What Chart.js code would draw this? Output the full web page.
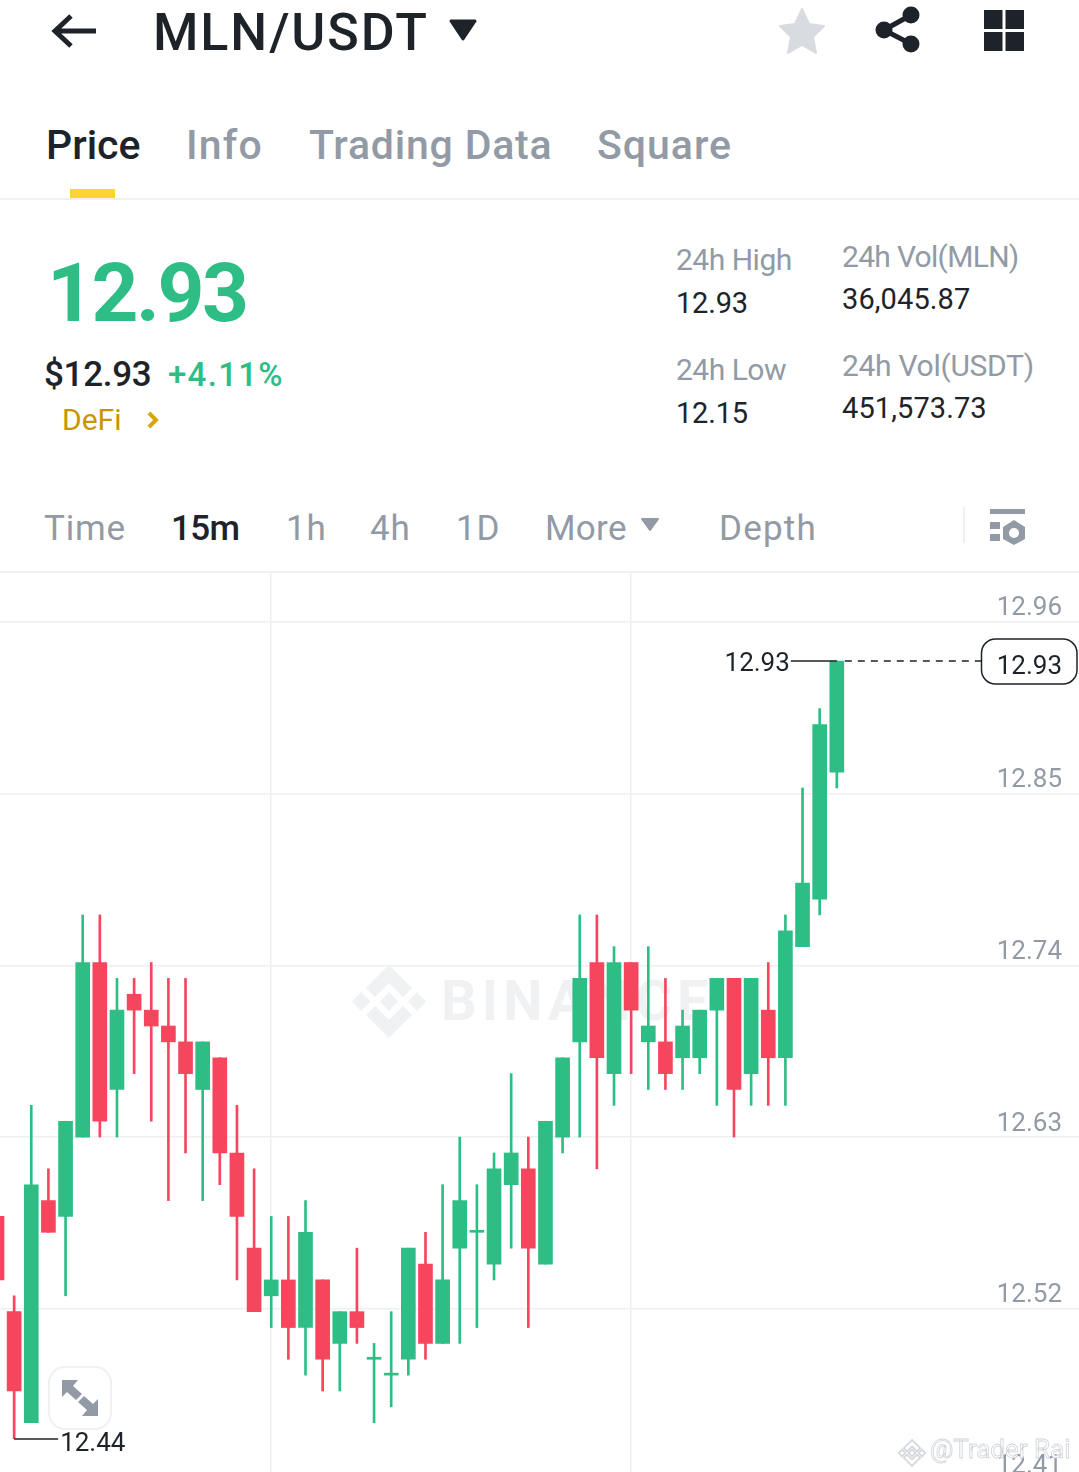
<!DOCTYPE html>
<html>
<head>
<meta charset="utf-8">
<title>MLN/USDT</title>
<script src="https://cdn.jsdelivr.net/npm/chart.js@4"></script>
<style>
  html, body { margin: 0; padding: 0; width: 1079px; height: 1472px; overflow: hidden; background: #fff; }
  body { position: relative; font-family: Roboto, sans-serif; color: #1E2329; }
  .t { position: absolute; white-space: nowrap; line-height: 1; transform: translateY(-50%); }
  .tab { font-size: 41px; color: #929AA5; font-weight: 500; top: 145px; letter-spacing: 0.8px; }
  .stat { font-size: 30px; color: #929AA5; letter-spacing: -0.5px; }
  .val { font-size: 29px; color: #1E2329; letter-spacing: 0.1px; }
  .tf { font-size: 35px; color: #929AA5; top: 528px; letter-spacing: 0.8px; }
  .rule { position: absolute; left: 0; width: 1079px; height: 2px; background: #EEF0F2; }
  svg { position: absolute; overflow: visible; }
  #chart { position: absolute; left: 0; top: 572px; }
  #expand { position: absolute; left: 48px; top: 1366px; width: 60px; height: 60px; border: 2px solid #EEF0F2; border-radius: 17px; background: #fff; }
</style>
</head>
<body>
  <!-- header -->
  <svg style="left:0;top:0" width="1079" height="60">
    <path d="M96 31H57M71 16L55 31L71 46" fill="none" stroke="#1E2329" stroke-width="5"/>
    <path d="M451 21H475L463 39Z" fill="#1E2329" stroke="#1E2329" stroke-width="3" stroke-linejoin="round"/>
    <path d="M802 9L809 24L824 26L813 37L816 53L802 45L788 53L791 37L780 26L795 24Z" fill="#D8DCE1" stroke="#D8DCE1" stroke-width="2" stroke-linejoin="round"/>
    <g fill="#1E2329"><circle cx="884" cy="30" r="8.5"/><circle cx="911" cy="15" r="8.5"/><circle cx="911" cy="44" r="8.5"/></g>
    <path d="M911 15L884 30L911 44" fill="none" stroke="#1E2329" stroke-width="5"/>
    <g fill="#1E2329"><rect x="984" y="10" width="18.5" height="19"/><rect x="1005.5" y="10" width="18.5" height="19"/><rect x="984" y="32" width="18.5" height="19"/><rect x="1005.5" y="32" width="18.5" height="19"/></g>
  </svg>
  <div class="t" style="left:153px;top:33px;font-size:52px;font-weight:500;letter-spacing:1.9px">MLN/USDT</div>

  <div class="t tab" style="left:46px;color:#1E2329;letter-spacing:0">Price</div>
  <div class="t tab" style="left:186px;letter-spacing:1.2px">Info</div>
  <div class="t tab" style="left:309px">Trading Data</div>
  <div class="t tab" style="left:597px;letter-spacing:1px">Square</div>
  <div style="position:absolute;left:70px;top:189px;width:45px;height:9px;background:#FCD535"></div>
  <div class="rule" style="top:198px"></div>

  <!-- price block -->
  <div class="t" style="left:47px;top:293px;font-size:82px;font-weight:700;color:#2EBD85;letter-spacing:-2.5px">12.93</div>
  <div class="t" style="left:44px;top:374px;font-size:35px;font-weight:500;letter-spacing:-0.3px">$12.93</div>
  <div class="t" style="left:168px;top:374px;font-size:33px;font-weight:500;color:#2EBD85;letter-spacing:1.3px">+4.11%</div>
  <div class="t" style="left:62px;top:420px;font-size:30px;color:#C99400">DeFi</div>
  <svg style="left:0;top:400px" width="200" height="40"><path d="M149 13L156 20L149 27" fill="none" stroke="#D9A60A" stroke-width="4"/></svg>

  <div class="t stat" style="left:676px;top:260px">24h High</div>
  <div class="t val" style="left:676px;top:303px;letter-spacing:-0.2px">12.93</div>
  <div class="t stat" style="left:676px;top:370px">24h Low</div>
  <div class="t val" style="left:676px;top:413px;letter-spacing:-0.2px">12.15</div>
  <div class="t stat" style="left:842px;top:257px;letter-spacing:-0.7px">24h Vol(MLN)</div>
  <div class="t val" style="left:842px;top:299px">36,045.87</div>
  <div class="t stat" style="left:842px;top:366px;letter-spacing:-0.3px">24h Vol(USDT)</div>
  <div class="t val" style="left:842px;top:408px">451,573.73</div>

  <!-- timeframe row -->
  <div class="t tf" style="left:44px">Time</div>
  <div class="t tf" style="left:171px;color:#1E2329;font-weight:500;letter-spacing:-0.7px">15m</div>
  <div class="t tf" style="left:286px">1h</div>
  <div class="t tf" style="left:370px">4h</div>
  <div class="t tf" style="left:456px">1D</div>
  <div class="t tf" style="left:545px;letter-spacing:0.3px">More</div>
  <div class="t tf" style="left:719px;letter-spacing:1.2px">Depth</div>
  <svg style="left:0;top:500px" width="1079" height="50">
    <path d="M642 19H658L650 30Z" fill="#929AA5" stroke="#929AA5" stroke-width="2" stroke-linejoin="round"/>
    <rect x="963" y="7" width="2" height="36" fill="#EEF0F2"/>
    <g fill="#929AA5">
      <rect x="990" y="9" width="35" height="5"/><rect x="990" y="22" width="10" height="7"/><rect x="990" y="34" width="10" height="7"/>
      <path fill-rule="evenodd" d="M1014 20L1025 27V39L1014 45L1003 39V27ZM1014 28A5 5 0 1 0 1014 38A5 5 0 1 0 1014 28Z"/>
    </g>
  </svg>
  <div class="rule" style="top:571px"></div>

  <!-- watermark behind the chart -->
  <svg style="left:352px;top:965px" width="74" height="73" viewBox="0 0 74 73" fill="#F0F1F2">
    <path d="M37 27L46 36.500L37 46L28 36.500Z"/>
    <path d="M9 27L18.500 36.500L9 46L0 36.500Z"/>
    <path d="M65 27L74 36.500L65 46L56 36.500Z"/>
    <path d="M37 0L60 23L51 32L37 18L23 32L14 23Z"/>
    <path d="M37 73L60 50L51 41L37 55L23 41L14 50Z"/>
  </svg>
  <div class="t" style="left:441px;top:1001px;font-size:56px;font-weight:700;color:#F0F1F2;letter-spacing:5px">BINANCE</div>

  <canvas id="chart" width="1079" height="930"></canvas>

  <div id="expand"></div>
  <svg style="left:0;top:1360px" width="200" height="70" fill="#929AA5">
    <path d="M62 20H78L73 26L82 34L76 40L67 32L62 37Z"/>
    <path d="M98 56H82L87 50L78 42L84 36L93 44L98 39Z"/>
  </svg>

  <svg style="left:898px;top:1440px" width="28" height="26" viewBox="0 0 74 73" fill="none" stroke="#D5D8DC" stroke-width="5">
    <path d="M37 27L46 36.500L37 46L28 36.500Z"/>
    <path d="M37 0L60 23L51 32L37 18L23 32L14 23Z"/>
    <path d="M37 73L60 50L51 41L37 55L23 41L14 50Z"/>
    <path d="M9 27L18 36.500L9 46L0 36.500Z"/>
    <path d="M65 27L74 36.500L65 46L56 36.500Z"/>
  </svg>
  <div class="t" style="left:930px;top:1449px;font-size:26px;color:#fff;-webkit-text-stroke:0.8px #CFD3D8">@Trader Rai</div>

<script>
// candles, left to right (first one is cut by the left edge)
const opens  = [12.58,12.52,12.45,12.59,12.58,12.63,12.74,12.66,12.72,12.71,12.70,12.69,12.66,12.68,12.62,12.56,12.53,12.54,12.51,12.54,12.50,12.52,12.49,12.48,12.49,12.55,12.50,12.56,12.57,12.55,12.60,12.61,12.55,12.63,12.69,12.74,12.67,12.74,12.69,12.69,12.68,12.68,12.71,12.73,12.67,12.71,12.68,12.75,12.78,12.86];
const closes = [12.54,12.47,12.60,12.57,12.64,12.74,12.64,12.71,12.71,12.70,12.69,12.67,12.69,12.62,12.58,12.52,12.54,12.51,12.57,12.49,12.52,12.51,12.49,12.48,12.56,12.50,12.54,12.59,12.57,12.61,12.62,12.56,12.64,12.68,12.73,12.68,12.74,12.71,12.70,12.67,12.70,12.71,12.73,12.66,12.73,12.68,12.76,12.79,12.89,12.93];
const highs  = [12.58,12.53,12.65,12.61,12.64,12.77,12.77,12.73,12.73,12.74,12.73,12.73,12.69,12.68,12.65,12.61,12.58,12.58,12.59,12.54,12.52,12.56,12.50,12.52,12.56,12.57,12.60,12.63,12.60,12.62,12.67,12.63,12.64,12.68,12.77,12.77,12.75,12.74,12.75,12.73,12.71,12.71,12.73,12.73,12.73,12.74,12.77,12.85,12.90,12.93];
const lows   = [12.54,12.44,12.45,12.57,12.53,12.63,12.63,12.63,12.67,12.64,12.59,12.62,12.59,12.60,12.54,12.52,12.51,12.49,12.48,12.47,12.47,12.50,12.45,12.46,12.48,12.49,12.50,12.50,12.51,12.54,12.56,12.51,12.55,12.62,12.63,12.61,12.65,12.67,12.66,12.66,12.66,12.67,12.65,12.63,12.65,12.65,12.65,12.75,12.77,12.85];

const yTickValues = [12.955, 12.8465, 12.738, 12.63, 12.522, 12.414];
const yTickLabels = ['12.96', '12.85', '12.74', '12.63', '12.52', '12.41'];
const xGridCandles = [16, 37];
const lastPrice = '12.93';

const GREEN = '#2EBD85', RED = '#F6465D', GRID = '#EEF0F2', AXIS_TEXT = '#929AA5', DARK = '#1E2329';
const indexes = opens.map((_, i) => i);
const colors = indexes.map(i => closes[i] >= opens[i] ? GREEN : RED);

// high/low labels and the last price tag
const priceMarks = {
  id: 'priceMarks',
  afterDatasetsDraw(c) {
    const { ctx, scales: { x, y } } = c;
    const hiI = highs.indexOf(Math.max(...highs));
    const loI = lows.indexOf(Math.min(...lows));
    const hiX = x.getPixelForValue(hiI), hiY = Math.round(y.getPixelForValue(highs[hiI]));
    const loX = x.getPixelForValue(loI), loY = Math.round(y.getPixelForValue(lows[loI]));
    ctx.save();
    ctx.font = '26px Roboto';
    ctx.textBaseline = 'middle';
    ctx.strokeStyle = DARK;
    ctx.fillStyle = DARK;
    ctx.lineWidth = 1.5;

    // high
    ctx.beginPath(); ctx.moveTo(hiX - 46, hiY); ctx.lineTo(hiX, hiY); ctx.stroke();
    ctx.textAlign = 'right';
    ctx.fillText(highs[hiI].toFixed(2), hiX - 47, hiY + 3);

    // low
    ctx.beginPath(); ctx.moveTo(loX, loY); ctx.lineTo(loX + 44, loY); ctx.stroke();
    ctx.textAlign = 'left';
    ctx.fillText(lows[loI].toFixed(2), loX + 46, loY + 5);

    // last price, dashed out to the tag
    ctx.setLineDash([7, 6]);
    ctx.beginPath(); ctx.moveTo(hiX + 8, hiY); ctx.lineTo(981, hiY); ctx.stroke();
    ctx.setLineDash([]);
    ctx.beginPath(); ctx.roundRect(981.5, hiY - 22, 95.5, 45, 14);
    ctx.fillStyle = '#fff'; ctx.fill(); ctx.stroke();
    ctx.fillStyle = DARK;
    ctx.textAlign = 'right';
    ctx.fillText(lastPrice, 1062, hiY + 6);
    ctx.restore();
  }
};

// no room kept for tick labels: the plot fills the canvas edge to edge
const noPadding = s => { s.paddingTop = 0; s.paddingBottom = 0; s.paddingLeft = 0; s.paddingRight = 0; };

new Chart(document.getElementById('chart'), {
  type: 'bar',
  data: {
    datasets: [
      {
        label: 'wick',
        data: indexes.map(i => ({ x: i, y: [lows[i], highs[i]] })),
        backgroundColor: colors,
        barThickness: 2,
        grouped: false,
        order: 2
      },
      {
        label: 'body',
        data: indexes.map(i => ({ x: i, y: [opens[i], closes[i]] })),
        backgroundColor: colors,
        barThickness: 14,
        minBarLength: 2,
        grouped: false,
        order: 1
      }
    ]
  },
  options: {
    responsive: false,
    animation: false,
    devicePixelRatio: 1,
    layout: { padding: 0 },
    plugins: { legend: { display: false }, tooltip: { enabled: false } },
    scales: {
      x: {
        type: 'linear',
        offset: false,
        min: 0.175,
        max: 63.13,
        afterBuildTicks: s => { s.ticks = xGridCandles.map(value => ({ value })); },
        afterFit: noPadding,
        ticks: { display: false },
        grid: { offset: false, color: GRID, lineWidth: 1.5, drawTicks: false },
        border: { display: false }
      },
      y: {
        position: 'right',
        min: 12.40007,
        max: 12.98608,
        afterBuildTicks: s => { s.ticks = yTickValues.map(value => ({ value })); },
        afterFit: s => { noPadding(s); s.width = 0; },
        ticks: {
          mirror: true,
          padding: -17, // mirrored labels start from the axis edge, pull them back inside
          labelOffset: -13,
          color: AXIS_TEXT,
          font: { family: 'Roboto', size: 26 },
          callback: value => yTickLabels[yTickValues.indexOf(value)]
        },
        grid: { color: GRID, lineWidth: 1.5, drawTicks: false },
        border: { display: false }
      }
    }
  },
  plugins: [priceMarks]
});
</script>
</body>
</html>
